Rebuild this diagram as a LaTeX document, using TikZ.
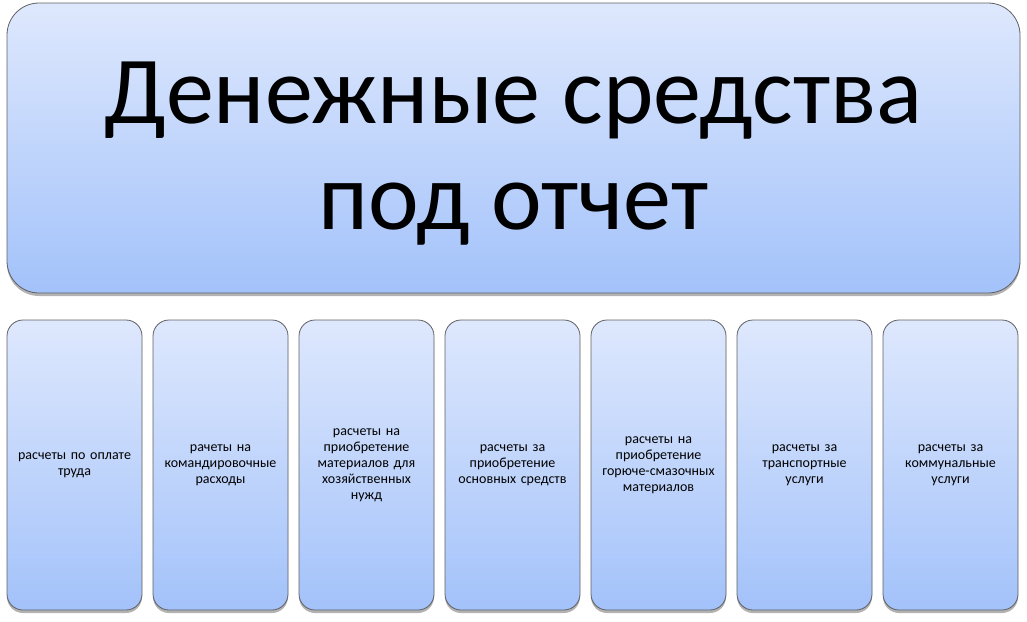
\documentclass[tikz,border=0pt]{standalone}
\usepackage{fontspec}
\setmainfont{Carlito}
\usepackage{tikz}
\usetikzlibrary{shadows}

\definecolor{cardtop}{RGB}{222,232,253}
\definecolor{cardbottom}{RGB}{163,194,250}
\definecolor{cardline}{RGB}{95,95,100}

\tikzset{
  card/.style={rectangle, draw=cardline, line width=0.8pt, top color=cardtop, bottom color=cardbottom,
    drop shadow={shadow xshift=0pt, shadow yshift=-3pt, opacity=0.3, fill=black}, align=center},
  titlecard/.style={card, rounded corners=32pt, minimum width=1013pt, minimum height=290pt,
    font=\fontsize{96}{106}\selectfont},
  itemcard/.style={card, rounded corners=16pt, minimum width=135pt, minimum height=290pt,
    text width=126pt, font=\fontsize{14}{16}\selectfont}
}

\begin{document}
\begin{tikzpicture}[x=1pt,y=-1pt]
\useasboundingbox (0,0) rectangle (1027,621);
\node[titlecard] (title) at (513.5,148) {};
\node[font=\fontsize{96}{106}\selectfont, align=center] (titletext) at (513.5,154) {Денежные средства\\под отчет};

\node[itemcard] (pay) at (74.5,465) {расчеты по оплате\\труда};
\node[itemcard] (trip) at (220.5,465) {рачеты на\\командировочные\\расходы};
\node[itemcard] (supply) at (366.5,465) {расчеты на\\приобретение\\материалов для\\хозяйственных\\нужд};
\node[itemcard] (assets) at (512.5,465) {расчеты за\\приобретение\\основных средств};
\node[itemcard] (fuel) at (658.5,465) {расчеты на\\приобретение\\горюче-смазочных\\материалов};
\node[itemcard] (transport) at (804.5,465) {расчеты за\\транспортные\\услуги};
\node[itemcard] (utility) at (950.5,465) {расчеты за\\коммунальные\\услуги};
\end{tikzpicture}
\end{document}
